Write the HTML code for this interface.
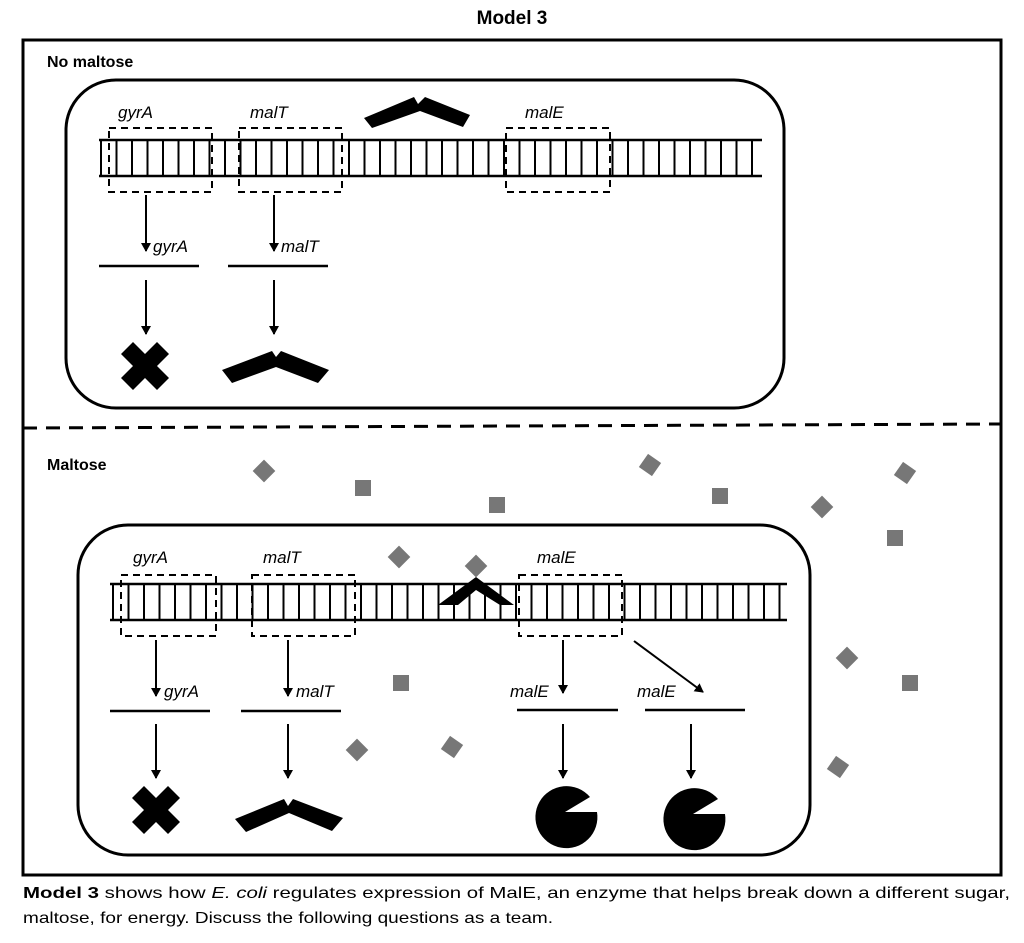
<!DOCTYPE html>
<html><head><meta charset="utf-8"><style>
html,body{margin:0;padding:0;background:#fff;width:1024px;height:943px;overflow:hidden}
svg{display:block}
text{font-family:"Liberation Sans",sans-serif}
.i{font-style:italic;font-size:17px}
</style></head><body>
<svg width="1024" height="943" viewBox="0 0 1024 943" xmlns="http://www.w3.org/2000/svg">
<defs>
<pattern id="r1" patternUnits="userSpaceOnUse" x="100" y="0" width="15.5" height="10"><rect x="0" y="0" width="2" height="10" fill="#000"/></pattern>
<pattern id="r2" patternUnits="userSpaceOnUse" x="112" y="0" width="15.5" height="10"><rect x="0" y="0" width="2" height="10" fill="#000"/></pattern>
<marker id="a" markerWidth="9" markerHeight="10" refX="8" refY="5" orient="auto" markerUnits="userSpaceOnUse"><path d="M0,0 L9,5 L0,10 z" fill="#000"/></marker>
</defs>
<text x="512" y="24" text-anchor="middle" font-weight="bold" font-size="19">Model 3</text>
<rect x="23" y="40" width="978" height="835" fill="none" stroke="#000" stroke-width="3"/>
<text x="47" y="67" font-weight="bold" font-size="16">No maltose</text>
<line x1="23" y1="428" x2="1001" y2="424" stroke="#000" stroke-width="3" stroke-dasharray="14,9"/>
<text x="47" y="470" font-weight="bold" font-size="16">Maltose</text>

<!-- top cell -->
<rect x="66" y="80" width="718" height="328" rx="50" fill="none" stroke="#000" stroke-width="3"/>
<rect x="100" y="141" width="660" height="35" fill="url(#r1)"/>
<line x1="99" y1="140" x2="762" y2="140" stroke="#000" stroke-width="2.5"/>
<line x1="99" y1="176" x2="762" y2="176" stroke="#000" stroke-width="2.5"/>
<g fill="none" stroke="#000" stroke-width="2" stroke-dasharray="7,5">
<rect x="109" y="128" width="103" height="64"/>
<rect x="239" y="128" width="103" height="64"/>
<rect x="506" y="128" width="104" height="64"/>
</g>
<text class="i" x="118" y="118">gyrA</text>
<text class="i" x="250" y="118">malT</text>
<text class="i" x="525" y="118">malE</text>
<path d="M364,118 L414,97 L418,104 L425,97 L470,115 L463,127 L420,111 L372,128 z" fill="#000"/>
<g stroke="#000" stroke-width="2" marker-end="url(#a)">
<line x1="146" y1="195" x2="146" y2="251"/>
<line x1="274" y1="195" x2="274" y2="251"/>
<line x1="146" y1="280" x2="146" y2="334"/>
<line x1="274" y1="280" x2="274" y2="334"/>
</g>
<text class="i" x="153" y="252">gyrA</text>
<text class="i" x="281" y="252">malT</text>
<line x1="99" y1="266" x2="199" y2="266" stroke="#000" stroke-width="2.5"/>
<line x1="228" y1="266" x2="328" y2="266" stroke="#000" stroke-width="2.5"/>
<path d="M133,342 L145,354 L157,342 L169,354 L157,366 L169,378 L157,390 L145,378 L133,390 L121,378 L133,366 L121,354 z" fill="#000"/>
<path d="M222,370 L272,351 L276,357 L281,351 L329,370 L318,383 L276,367 L232,383 z" fill="#000"/>

<!-- bottom cell -->
<rect x="78" y="525" width="732" height="330" rx="50" fill="none" stroke="#000" stroke-width="3"/>
<rect x="112" y="585" width="675" height="35" fill="url(#r2)"/>
<line x1="110" y1="584" x2="787" y2="584" stroke="#000" stroke-width="2.5"/>
<line x1="110" y1="620" x2="787" y2="620" stroke="#000" stroke-width="2.5"/>
<g fill="none" stroke="#000" stroke-width="2" stroke-dasharray="7,5">
<rect x="121" y="575" width="95" height="61"/>
<rect x="252" y="575" width="103" height="61"/>
<rect x="519" y="575" width="103" height="61"/>
</g>
<text class="i" x="133" y="563">gyrA</text>
<text class="i" x="263" y="563">malT</text>
<text class="i" x="537" y="563">malE</text>
<path d="M438,605 L476,577 L514,605 L500,605 L476,590 L458,605 z" fill="#000"/>
<g stroke="#000" stroke-width="2" marker-end="url(#a)">
<line x1="156" y1="640" x2="156" y2="696"/>
<line x1="288" y1="640" x2="288" y2="696"/>
<line x1="563" y1="640" x2="563" y2="693"/>
<line x1="634" y1="641" x2="703" y2="692"/>
<line x1="156" y1="724" x2="156" y2="778"/>
<line x1="288" y1="724" x2="288" y2="778"/>
<line x1="563" y1="724" x2="563" y2="778"/>
<line x1="691" y1="724" x2="691" y2="778"/>
</g>
<text class="i" x="164" y="697">gyrA</text>
<text class="i" x="296" y="697">malT</text>
<text class="i" x="510" y="697">malE</text>
<text class="i" x="637" y="697">malE</text>
<g stroke="#000" stroke-width="2.5">
<line x1="110" y1="711" x2="210" y2="711"/>
<line x1="241" y1="711" x2="341" y2="711"/>
<line x1="517" y1="710" x2="618" y2="710"/>
<line x1="645" y1="710" x2="745" y2="710"/>
</g>
<path d="M144,786 L156,798 L168,786 L180,798 L168,810 L180,822 L168,834 L156,822 L144,834 L132,822 L144,810 L132,798 z" fill="#000"/>
<path d="M235,819 L284,799 L288,806 L293,799 L343,818 L332,831 L289,813 L246,832 z" fill="#000"/>
<path d="M565,812 L590,797 A31,31 0 1 0 597,812 z" fill="#000"/>
<path d="M693,814 L718,799 A31,31 0 1 0 725,814 z" fill="#000"/>

<!-- maltose -->
<g fill="#777">
<rect x="355" y="480" width="16" height="16"/>
<rect x="489" y="497" width="16" height="16"/>
<rect x="712" y="488" width="16" height="16"/>
<rect x="887" y="530" width="16" height="16"/>
<rect x="393" y="675" width="16" height="16"/>
<rect x="902" y="675" width="16" height="16"/>
<rect x="-8" y="-8" width="16" height="16" transform="translate(264,471) rotate(45)"/>
<rect x="-8" y="-8" width="16" height="16" transform="translate(650,465) rotate(35)"/>
<rect x="-8" y="-8" width="16" height="16" transform="translate(822,507) rotate(45)"/>
<rect x="-8" y="-8" width="16" height="16" transform="translate(905,473) rotate(35)"/>
<rect x="-8" y="-8" width="16" height="16" transform="translate(847,658) rotate(45)"/>
<rect x="-8" y="-8" width="16" height="16" transform="translate(357,750) rotate(45)"/>
<rect x="-8" y="-8" width="16" height="16" transform="translate(452,747) rotate(35)"/>
<rect x="-8" y="-8" width="16" height="16" transform="translate(838,767) rotate(35)"/>
<rect x="-8" y="-8" width="16" height="16" transform="translate(399,557) rotate(45)"/>
<rect x="-8" y="-8" width="16" height="16" transform="translate(476,566) rotate(45)"/>
</g>

<text x="23" y="898" font-size="16" textLength="987" lengthAdjust="spacingAndGlyphs"><tspan font-weight="bold">Model 3</tspan> shows how <tspan font-style="italic">E. coli</tspan> regulates expression of MalE, an enzyme that helps break down a different sugar,</text>
<text x="23" y="923" font-size="16" textLength="530" lengthAdjust="spacingAndGlyphs">maltose, for energy. Discuss the following questions as a team.</text>
</svg>
</body></html>
